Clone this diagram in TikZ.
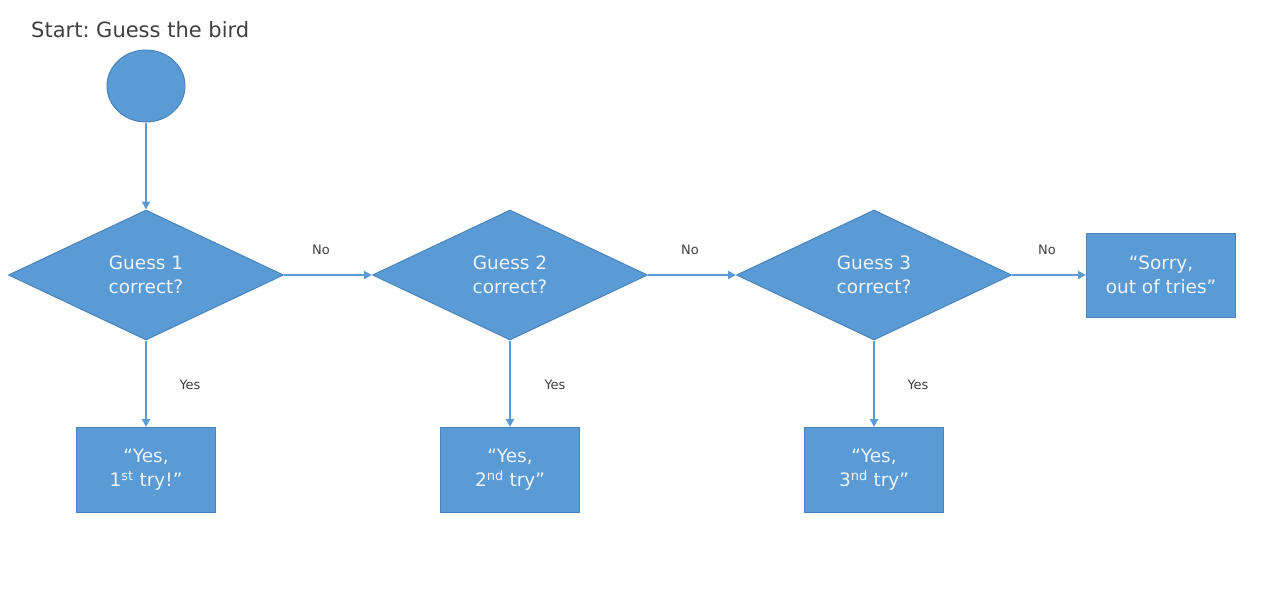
\documentclass[tikz,border=0pt]{standalone}
\usepackage{fontspec}
\setmainfont{DejaVu Sans}
\usetikzlibrary{shapes.geometric,arrows.meta}
\definecolor{obl}{HTML}{5B9BD5}
\definecolor{obd}{HTML}{4A84BC}
\definecolor{txtw}{HTML}{EEF4FB}
\frenchspacing
\begin{document}
\begin{tikzpicture}[x=1pt,y=-1pt,
  shp/.style={fill=obl,draw=obd,line width=1pt,text=txtw,font=\fontsize{18.5}{24}\selectfont,align=center},
  dec/.style={shp,diamond,inner sep=0pt,minimum width=275pt,minimum height=130pt,shape aspect=2.115},
  res/.style={shp,rectangle,inner sep=0pt,minimum width=139pt,minimum height=85pt},
  startc/.style={shp,ellipse,inner sep=0pt,minimum width=78pt,minimum height=72pt},
  conn/.style={draw=obl,line width=2.6pt,-{Triangle[length=8pt,width=8pt]}},
  lbl/.style={font=\fontsize{13}{15}\selectfont,text=black!75}]
\useasboundingbox (0,0) rectangle (1284,597);
\fill[white] (0,0) rectangle (1284,597);
\node[anchor=base west,font=\fontsize{21}{24}\selectfont,text=black!75,inner sep=0pt] (title) at (31,37) {Start: Guess the bird};
\node[startc] (start) at (146,86) {};
\node[dec] (d1) at (146,275) {Guess 1\\correct?};
\node[dec] (d2) at (510,275) {Guess 2\\correct?};
\node[dec] (d3) at (874,275) {Guess 3\\correct?};
\node[res,minimum width=149pt,minimum height=84pt] (sorry) at (1161,275) {“Sorry,\\out of tries”};
\node[res] (y1) at (146,470) {“Yes,\\1\textsuperscript{st} try!”};
\node[res] (y2) at (510,470) {“Yes,\\2\textsuperscript{nd} try”};
\node[res] (y3) at (874,470) {“Yes,\\3\textsuperscript{nd} try”};
\draw[conn] (start) -- (d1);
\draw[conn] (d1.east) -- (d2.west);
\draw[conn] (d2.east) -- (d3.west);
\draw[conn] (d3.east) -- (sorry.west);
\draw[conn] (d1.south) -- (y1.north);
\draw[conn] (d2.south) -- (y2.north);
\draw[conn] (d3.south) -- (y3.north);
\node[lbl] (n1) at (321,250) {No};
\node[lbl] (n2) at (690,250) {No};
\node[lbl] (n3) at (1047,250) {No};
\node[lbl] (s1) at (190,385) {Yes};
\node[lbl] (s2) at (555,385) {Yes};
\node[lbl] (s3) at (918,385) {Yes};
\end{tikzpicture}
\end{document}
